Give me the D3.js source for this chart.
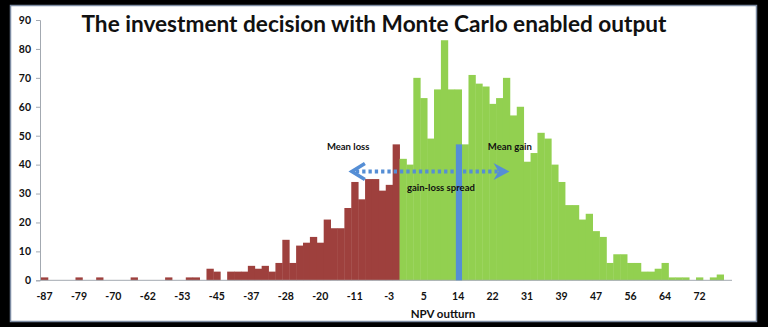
<!DOCTYPE html>
<html>
<head>
<meta charset="utf-8">
<script src="https://cdn.jsdelivr.net/npm/d3@7"></script>
<style>
  html, body { margin: 0; padding: 0; background: #000; }
  svg { display: block; }
  text { font-family: Lato, "Open Sans", sans-serif; font-weight: 700; fill: #111; }
</style>
</head>
<body>
<svg id="chart" width="768" height="327"></svg>
<script>
// Simulated NPV outcomes: count of trials per NPV bin (100 bins)
const counts = [
  1, 0, 0, 0, 0, 1, 0, 0, 1, 0,
  0, 0, 0, 1, 0, 0, 0, 0, 1, 0,
  0, 1, 1, 0, 4, 3, 0, 3, 3, 3,
  5, 4, 5, 3, 6, 14, 6, 12, 13, 15,
  13, 21, 18, 18, 25, 34, 28, 35, 35, 31,
  33, 47, 42, 40, 70, 63, 49, 66, 83, 66,
  66, 47, 71, 68, 67, 61, 63, 70, 57, 60,
  41, 44, 51, 49, 40, 34, 26, 26, 21, 23,
  17, 15, 6, 9, 9, 6, 6, 3, 3, 4,
  6, 1, 1, 1, 0, 1, 0, 1, 2, 0
];
// Axis labels shown on every fifth bin
const tickLabels = ["-87", "-79", "-70", "-62", "-53", "-45", "-37", "-28", "-20", "-11",
                    "-3", "5", "14", "22", "31", "39", "47", "56", "64", "72"];
const labelEvery = 5;
const yTicks = [0, 10, 20, 30, 40, 50, 60, 70, 80, 90];
const firstGainBin = 52;          // first bin with a positive NPV
const meanBin = 60;               // bin holding the mean NPV (14)
const meanMarkerValue = 47;       // height of the mean marker
const meanLossBin = 44.8;         // arrow tip for the mean loss
const meanGainBin = 67.95;        // arrow tip for the mean gain
const spreadLevel = 37.6;         // count level of the spread arrow

const title = "The investment decision with Monte Carlo enabled output";
const colors = { loss: "#9e403d", gain: "#92d050", mean: "#558ed5", axis: "#a3a9b1" };

const svg = d3.select("#chart");

// white panel with thin frame
svg.append("rect")
  .attr("x", 10.5).attr("y", 5.5).attr("width", 746).attr("height", 316)
  .attr("fill", "#fff").attr("stroke", "#7d8ca3").attr("stroke-width", 1.5);

const plot = { left: 41, right: 730.5, top: 20, bottom: 280.3 };

const x = d3.scaleBand()
  .domain(d3.range(counts.length))
  .range([plot.left, plot.right])
  .paddingInner(0).paddingOuter(0);
const xAt = b => plot.left + b * x.step();

const y = d3.scaleLinear().domain([0, 90]).range([plot.bottom, plot.top]);

// bars
svg.append("g").selectAll("rect")
  .data(counts)
  .join("rect")
  .attr("x", (d, i) => x(i))
  .attr("width", x.bandwidth() + 0.4)
  .attr("y", d => y(d))
  .attr("height", d => y(0) - y(d))
  .attr("fill", (d, i) => i < firstGainBin ? colors.loss : colors.gain);

// y axis
const yAxis = svg.append("g").attr("transform", `translate(${plot.left - 1},0)`)
  .call(d3.axisLeft(y).tickValues(yTicks).tickSize(4).tickPadding(5));
yAxis.select(".domain").attr("stroke", colors.axis);
yAxis.selectAll(".tick line").attr("stroke", colors.axis);
yAxis.selectAll(".tick text")
  .attr("font-family", "Lato, sans-serif").attr("font-weight", 700)
  .attr("font-size", 10.5).attr("fill", "#1a1a1a");

// x axis
const labelBins = tickLabels.map((t, i) => i * labelEvery);
const xAxis = svg.append("g").attr("transform", `translate(0,${plot.bottom})`)
  .call(d3.axisBottom(x).tickValues(labelBins)
    .tickFormat((d, i) => tickLabels[i]).tickSize(0).tickPadding(12));
xAxis.select(".domain").attr("stroke", colors.axis)
  .attr("d", `M${plot.left - 1},0H${plot.right + 1.5}`);
xAxis.selectAll(".tick text")
  .attr("font-family", "Lato, sans-serif").attr("font-weight", 700)
  .attr("font-size", 10.5).attr("fill", "#1a1a1a");

// axis title
svg.append("text")
  .attr("x", 443).attr("y", 317.5).attr("text-anchor", "middle")
  .attr("font-size", 11.5).text("NPV outturn");

// mean marker
svg.append("rect")
  .attr("x", x(meanBin) + x.bandwidth() / 2 - 2.3)
  .attr("width", 6.2)
  .attr("y", y(meanMarkerValue))
  .attr("height", y(0) - y(meanMarkerValue))
  .attr("fill", colors.mean);

// gain-loss spread arrow
const ay = y(spreadLevel);
const xl = xAt(meanLossBin), xr = xAt(meanGainBin);
svg.append("line")
  .attr("x1", xl + 6).attr("x2", xr - 8)
  .attr("y1", ay).attr("y2", ay)
  .attr("stroke", colors.mean).attr("stroke-width", 4)
  .attr("stroke-dasharray", "3.3 3");
svg.append("path")
  .attr("d", `M${xl + 15},${ay - 8} L${xl + 2},${ay} L${xl + 15},${ay + 8}`)
  .attr("fill", "none").attr("stroke", colors.mean).attr("stroke-width", 3.6)
  .attr("stroke-linejoin", "miter");
svg.append("path")
  .attr("d", `M${xr - 16},${ay - 8.5} L${xr},${ay} L${xr - 16},${ay + 8.5} L${xr - 11},${ay} Z`)
  .attr("fill", colors.mean);

// annotation labels
svg.append("text").attr("x", xAt(44.55)).attr("y", y(44.9))
  .attr("text-anchor", "middle").attr("font-size", 9.5).text("Mean loss");
svg.append("text").attr("x", xAt(68)).attr("y", y(44.9))
  .attr("text-anchor", "middle").attr("font-size", 9.5).text("Mean gain");
svg.append("text").attr("x", xAt(58)).attr("y", y(31))
  .attr("text-anchor", "middle").attr("font-size", 9.5).text("gain-loss spread");

// title
const t = svg.append("text")
  .attr("x", 374).attr("y", 32).attr("text-anchor", "middle")
  .attr("font-size", 22).attr("fill", "#0d0d0d").text(title);
const tw = t.node().getComputedTextLength();
if (Math.abs(tw - 585) > 4) t.attr("textLength", 585).attr("lengthAdjust", "spacingAndGlyphs");
</script>
</body>
</html>
